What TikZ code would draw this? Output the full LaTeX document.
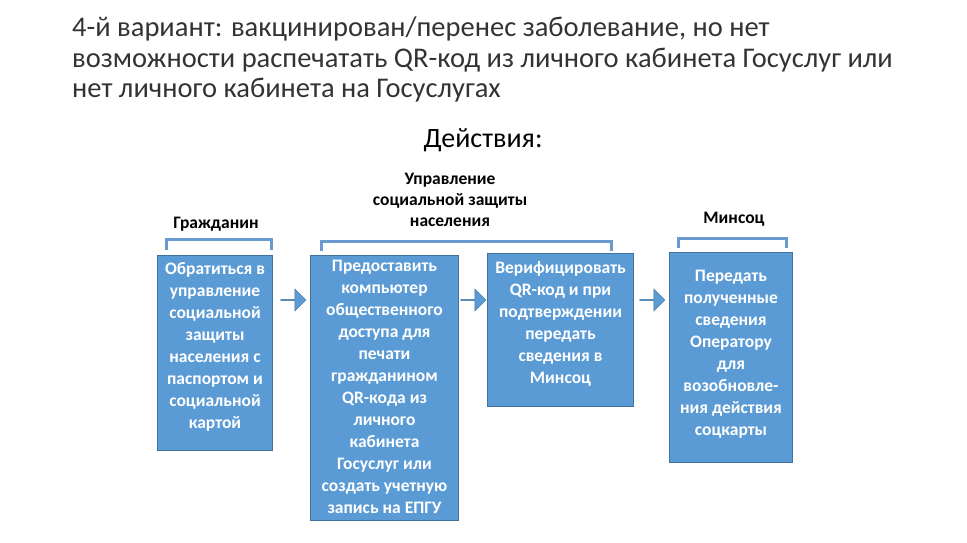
\documentclass[tikz,border=0pt]{standalone}
\usepackage{fontspec}
\setmainfont{Carlito}
\usetikzlibrary{shapes.arrows}
\definecolor{boxf}{HTML}{5B9BD5}
\definecolor{boxd}{HTML}{41719C}
\definecolor{brk}{HTML}{6A9BD0}
\tikzset{
 box/.style={draw=boxd,line width=1pt,fill=boxf,anchor=north west,inner sep=0pt},
 btxt/.style={align=center,text=white,font=\fontsize{17.5}{22}\selectfont\bfseries,anchor=north},
 arr/.style={single arrow,draw=boxd,fill=boxf,minimum width=22pt,single arrow head extend=3pt,minimum height=25pt,inner sep=0pt},
 brack/.style={draw=brk,line width=3pt},
 lab/.style={font=\fontsize{17.5}{21}\selectfont\bfseries,align=center}
}
\begin{document}
\begin{tikzpicture}[x=1pt,y=-1pt]
\useasboundingbox (0,0) rectangle (967,543);
\node[anchor=north west,align=left,font=\fontsize{28.5}{30.5}\selectfont,text=black!80,inner sep=0pt] (title) at (72,17) {4-й вариант: вакцинирован/перенес заболевание, но нет\\возможности распечатать QR-код из личного кабинета Госуслуг или\\нет личного кабинета на Госуслугах};
\node[font=\fontsize{28}{30}\selectfont] (act) at (483,140) {Действия:};
\node[box,minimum width=115pt,minimum height=195pt] (b1) at (157,255) {};
\node[btxt] (t1) at (b1.north) [yshift=-4pt]{Обратиться в\\управление\\социальной\\защиты\\населения с\\паспортом и\\социальной\\картой};
\node[box,minimum width=148pt,minimum height=265pt] (b2) at (310,255) {};
\node[btxt] (t2) at (b2.north) [yshift=-2pt]{Предоставить\\компьютер\\общественного\\доступа для\\печати\\гражданином\\QR-кода из\\личного\\кабинета\\Госуслуг или\\создать учетную\\запись на ЕПГУ};
\node[box,minimum width=146pt,minimum height=153pt] (b3) at (487,253) {};
\node[btxt] (t3) at (b3.north) [yshift=-5pt]{Верифицировать\\QR-код и при\\подтверждении\\передать\\сведения в\\Минсоц};
\node[box,minimum width=123pt,minimum height=210pt] (b4) at (669,252) {};
\node[btxt] (t4) at (b4.north) [yshift=-15pt]{Передать\\полученные\\сведения\\Оператору\\для\\возобновле-\\ния действия\\соцкарты};
\node[arr] (a1) at (293,300) {};
\node[arr] (a2) at (473,300) {};
\node[arr] (a3) at (652,300) {};
\draw[brack] (166,250) -- (166,239) -- (271,239) -- (271,250);
\draw[brack] (321,251) -- (321,241) -- (611,241) -- (611,251);
\draw[brack] (678,248) -- (678,238) -- (786,238) -- (786,248);
\node[lab] (l1) at (216,224) {Гражданин};
\node[lab] (l2) at (450,200) {Управление\\социальной защиты\\населения};
\node[lab] (l3) at (734,219) {Минсоц};
\end{tikzpicture}
\end{document}
